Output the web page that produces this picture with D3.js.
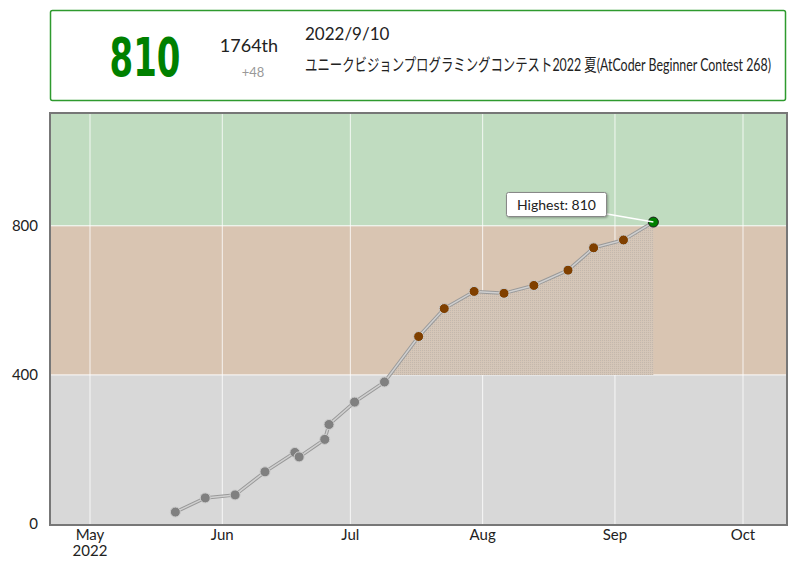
<!DOCTYPE html>
<html><head><meta charset="utf-8">
<script src="https://cdn.jsdelivr.net/npm/d3@7"></script>
<style>body{margin:0;background:#fff;font-family:Lato,"Noto Sans CJK JP",sans-serif}</style>
</head><body><svg id="c" width="800" height="564"></svg>
<script>
const dates=["2022-05-21","2022-05-28","2022-06-04","2022-06-11","2022-06-18","2022-06-19","2022-06-25","2022-06-26","2022-07-02","2022-07-09","2022-07-17","2022-07-23","2022-07-30","2022-08-06","2022-08-13","2022-08-21","2022-08-27","2022-09-03","2022-09-10"];
const ratings=[32,70,78,140,192,180,227,267,327,381,503,578,624,619,640,681,741,762,810];
const bands=[[0,400,"#d8d8d8","#808080"],[400,800,"#d9c5b2","#804000"],[800,1100,"#c0dcc0","#008000"]];
const yTicks=[0,400,800];
const monthLabels=["May\n2022","Jun","Jul","Aug","Sep","Oct"];
const monthDates=["2022-05-01","2022-06-01","2022-07-01","2022-08-01","2022-09-01","2022-10-01"];

const svg=d3.select("#c");
const L=51,R=786,T=114,B=524;
const pd=d3.utcParse("%Y-%m-%d");
const x=d3.scaleUtc().domain([pd("2022-05-01"),pd("2022-10-01")]).range([90,743]);
const y=d3.scaleLinear().domain([0,1100]).range([B,T]);

// header
svg.append("rect").attr("x",50.5).attr("y",10.5).attr("width",735).attr("height",90).attr("rx",2).attr("fill","#fff").attr("stroke","#2e9a2e").attr("stroke-width",1.5);
svg.append("text").attr("x",145).attr("y",76).attr("text-anchor","middle").attr("font-family","'DejaVu Sans Condensed','DejaVu Sans'").attr("font-weight","bold").attr("font-size",54).attr("fill","#008000").attr("transform","translate(145,0) scale(0.7,1) translate(-145,0)").text("810");
svg.append("text").attr("x",249).attr("y",52).attr("text-anchor","middle").attr("font-size",18).attr("fill","#222").text("1764th");
svg.append("text").attr("x",253).attr("y",77).attr("text-anchor","middle").attr("font-size",13).attr("fill","#999").text("+48");
svg.append("text").attr("x",305).attr("y",40).attr("font-size",17).attr("fill","#222").text("2022/9/10");
svg.append("text").attr("x",305).attr("y",71).attr("font-size",17).attr("fill","#222").attr("textLength",466).attr("lengthAdjust","spacingAndGlyphs").text("ユニークビジョンプログラミングコンテスト2022 夏(AtCoder Beginner Contest 268)");

svg.append("rect").attr("x",L-1).attr("y",T-1).attr("width",R-L+2).attr("height",B-T+2).attr("fill","none").attr("stroke","#777").attr("stroke-width",2);
bands.forEach(b=>svg.append("rect").attr("x",L).attr("width",R-L).attr("y",y(b[1])).attr("height",y(b[0])-y(b[1])).attr("fill",b[2]));
monthDates.forEach(d=>svg.append("line").attr("x1",x(pd(d))).attr("x2",x(pd(d))).attr("y1",T).attr("y2",B).attr("stroke","#fff").attr("stroke-opacity",0.8));
[400,800].forEach(v=>svg.append("line").attr("x1",L).attr("x2",R).attr("y1",y(v)).attr("y2",y(v)).attr("stroke","#fff").attr("stroke-opacity",0.9));

const defs=svg.append("defs");
const pat=defs.append("pattern").attr("id","dots").attr("width",2).attr("height",2).attr("patternUnits","userSpaceOnUse");
pat.append("rect").attr("width",2).attr("height",2).attr("fill","#d9c5b2");
pat.append("rect").attr("width",1).attr("height",1).attr("fill","#c0b8b0");
pat.append("rect").attr("x",1).attr("y",1).attr("width",1).attr("height",1).attr("fill","#d0c8c0");
defs.append("clipPath").attr("id","cl").append("rect").attr("x",L).attr("y",y(1100)).attr("width",R-L).attr("height",y(400)-y(1100));
const data=dates.map((d,i)=>({d:pd(d),r:ratings[i]}));
const last=data[data.length-1];
svg.append("path").attr("clip-path","url(#cl)")
 .attr("d",d3.area().x(p=>x(p.d)).y0(y(400)).y1(p=>y(p.r))(data)+"L"+(x(last.d)+8)+","+y(400)+"Z")
 .attr("fill","url(#dots)");

const ln=d3.line().x(p=>x(p.d)).y(p=>y(p.r));
svg.append("path").attr("d",ln(data)).attr("fill","none").attr("stroke","#999").attr("stroke-width",3.5);
svg.append("path").attr("d",ln(data)).attr("fill","none").attr("stroke","#d0d0d0").attr("stroke-width",1.5);
const col=r=>bands.find(b=>r>=b[0]&&r<b[1])[3];
svg.selectAll("circle.p").data(data).join("circle").attr("cx",p=>x(p.d)).attr("cy",p=>y(p.r)).attr("r",5).attr("fill",p=>col(p.r)).attr("stroke","#ccc").attr("stroke-width",1);
svg.append("circle").attr("cx",x(last.d)).attr("cy",y(last.r)).attr("r",5).attr("fill","#008000").attr("stroke","#222").attr("stroke-width",1);

svg.append("line").attr("x1",607).attr("y1",214).attr("x2",x(last.d)).attr("y2",y(last.r)).attr("stroke","#fff").attr("stroke-width",1.5);
svg.append("rect").attr("x",506.5).attr("y",192.5).attr("width",100).attr("height",24).attr("rx",2).attr("fill","#fff").attr("stroke","#888").attr("filter","drop-shadow(1px 1px 1px rgba(0,0,0,0.3))");
svg.append("text").attr("x",556.5).attr("y",209.5).attr("text-anchor","middle").attr("font-size",14).attr("fill","#222").text("Highest: 810");

yTicks.forEach(v=>svg.append("text").attr("x",38).attr("y",y(v)+5).attr("text-anchor","end").attr("font-size",15).attr("fill","#222").text(v));
monthDates.forEach((d,i)=>{
  const t=svg.append("text").attr("x",x(pd(d))).attr("y",540).attr("text-anchor","middle").attr("font-size",15).attr("fill","#222");
  monthLabels[i].split("\n").forEach((s,j)=>t.append("tspan").attr("x",x(pd(d))).attr("dy",j?16:0).text(s));
});
</script></body></html>
